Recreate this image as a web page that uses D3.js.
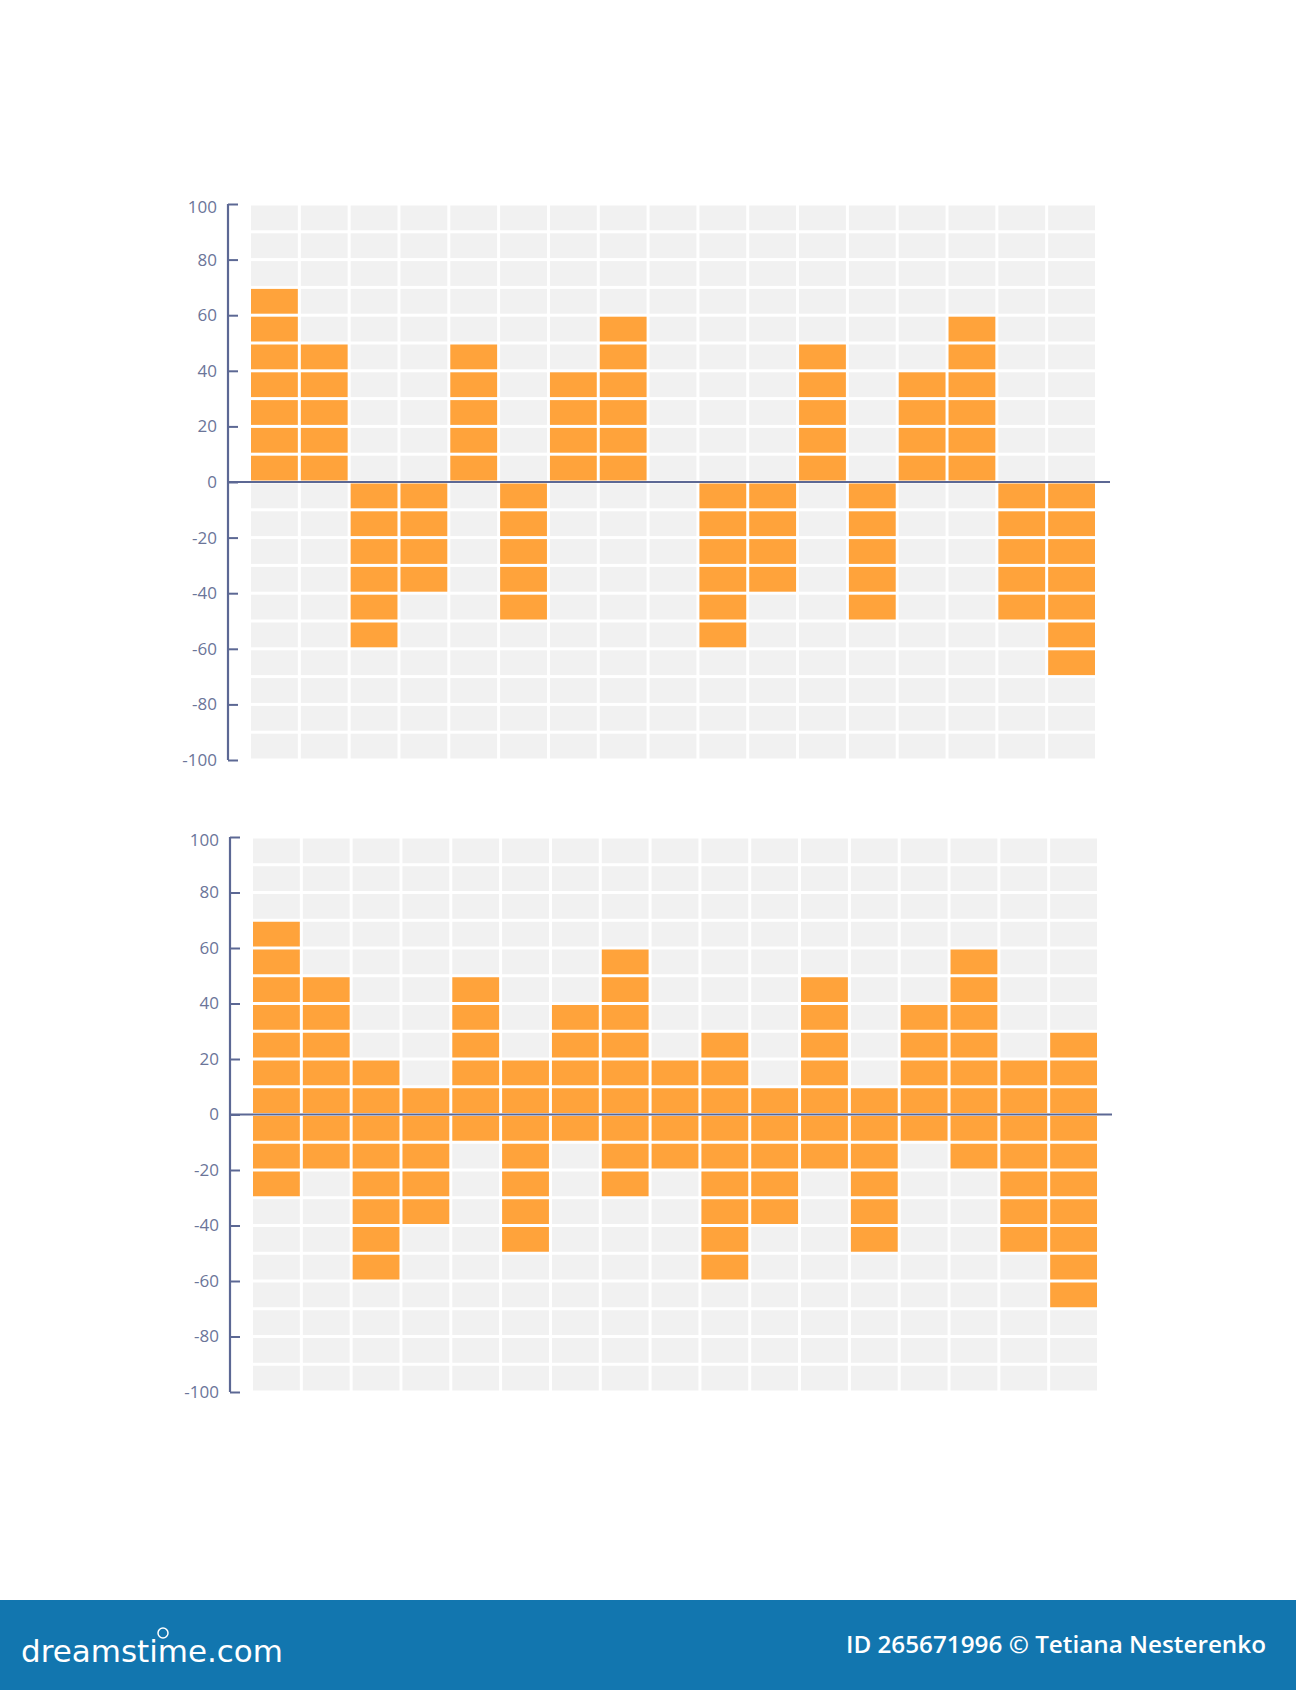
<!DOCTYPE html>
<html>
<head>
<meta charset="utf-8">
<script src="https://cdn.jsdelivr.net/npm/d3@7/dist/d3.min.js"></script>
<style>
  html, body { margin: 0; padding: 0; background: #ffffff; }
  svg { display: block; }
</style>
</head>
<body>
<svg id="chart" width="1296" height="1690"></svg>
<script>
// ---- data ----
const categories = d3.range(1, 18).map(d => "C" + d);
// chart 1: single-sided bars (value from 0)
const topValues = [70, 50, -60, -40, 50, -50, 40, 60, 0, -60, -40, 50, -50, 40, 60, -50, -70];
// chart 2: range bars (high / low)
const rangeHigh = [70, 50, 20, 10, 50, 20, 40, 60, 20, 30, 10, 50, 10, 40, 60, 20, 30];
const rangeLow  = [-30, -20, -60, -40, -10, -50, -10, -30, -20, -60, -40, -20, -50, -10, -20, -50, -70];
const yTicks = [100, 80, 60, 40, 20, 0, -20, -40, -60, -80, -100];
const cellStep = 10;

const svg = d3.select("#chart");
const AXIS = "#5c6894", LABEL = "#6b7599", GRAY = "#f1f1f1", ORANGE = "#ffa33b";

function drawChart(cfg, lows, highs) {
  const g = svg.append("g");
  const x = d3.scaleBand().domain(categories).range([cfg.x0, cfg.x1]).padding(0);
  const y = d3.scaleLinear().domain([-100, 100]).range([cfg.yBottom, cfg.yTop]);
  const slots = d3.range(-100, 100, cellStep);
  const inset = 1.5;

  const cells = [];
  categories.forEach((c, i) => {
    slots.forEach(s => {
      const on = s >= lows[i] && s + cellStep <= highs[i];
      cells.push({ c, s, on });
    });
  });

  g.selectAll("rect.cell").data(cells).join("rect")
    .attr("class", "cell")
    .attr("x", d => x(d.c) + inset)
    .attr("width", x.bandwidth() - 2 * inset)
    .attr("y", d => y(d.s + cellStep) + inset)
    .attr("height", d => y(d.s) - y(d.s + cellStep) - 2 * inset)
    .attr("fill", d => d.on ? ORANGE : GRAY);

  // zero line
  g.append("line")
    .attr("x1", cfg.axisX).attr("x2", cfg.zeroEnd)
    .attr("y1", y(0)).attr("y2", y(0))
    .attr("stroke", AXIS).attr("stroke-width", 2);

  // y axis
  const axis = d3.axisRight(y).tickValues(yTicks).tickSize(10).tickFormat("");
  const ag = g.append("g").attr("transform", `translate(${cfg.axisX},0)`).call(axis);
  ag.select(".domain").attr("stroke", AXIS).attr("stroke-width", 2.2)
    .attr("d", `M0,${y(100)}V${y(-100)}`);
  ag.selectAll(".tick line").attr("stroke", AXIS).attr("stroke-width", 2);

  g.selectAll("text.lab").data(yTicks).join("text")
    .attr("class", "lab")
    .attr("x", cfg.axisX - 11)
    .attr("y", d => y(d) + (d === 100 ? 3 : 0))
    .attr("dy", "0.35em")
    .attr("text-anchor", "end")
    .attr("font-family", "'Open Sans', sans-serif")
    .attr("font-weight", 400)
    .attr("font-size", 17)
    .attr("fill", LABEL)
    .text(d => d);
}

drawChart({ x0: 249.5, x1: 1096.5, yTop: 204, yBottom: 760, axisX: 228, zeroEnd: 1110 },
  topValues.map(v => Math.min(0, v)), topValues.map(v => Math.max(0, v)));
drawChart({ x0: 251.5, x1: 1098.5, yTop: 837, yBottom: 1392, axisX: 230, zeroEnd: 1112 },
  rangeLow, rangeHigh);

// footer band
svg.append("rect").attr("x", 0).attr("y", 1600).attr("width", 1296).attr("height", 90).attr("fill", "#1276af");
svg.append("text")
  .attr("x", 21).attr("y", 1662)
  .attr("font-family", "'DejaVu Sans', sans-serif")
  .attr("font-size", 30)
  .attr("fill", "#ffffff")
  .attr("textLength", 262).attr("lengthAdjust", "spacingAndGlyphs")
  .text("dreamstime.com");
svg.append("circle").attr("cx", 163).attr("cy", 1633).attr("r", 5)
  .attr("fill", "none").attr("stroke", "#ffffff").attr("stroke-width", 1.5);
svg.append("text")
  .attr("x", 1266).attr("y", 1653)
  .attr("text-anchor", "end")
  .attr("font-family", "'Open Sans', sans-serif")
  .attr("font-weight", 600)
  .attr("font-size", 24)
  .attr("fill", "#ffffff")
  .attr("textLength", 420).attr("lengthAdjust", "spacingAndGlyphs")
  .text("ID 265671996 © Tetiana Nesterenko");
</script>
</body>
</html>
